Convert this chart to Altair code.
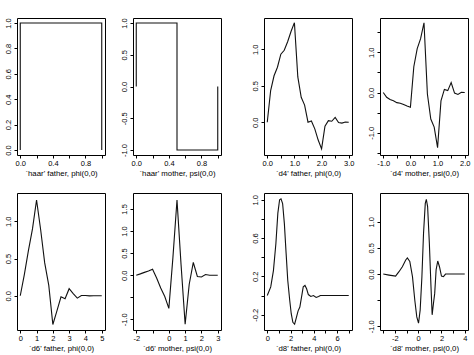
import altair as alt
import pandas as pd

# ---------------- data ----------------
HAAR_PHI_X = [0, 0, 1, 1]
HAAR_PHI_Y = [0, 1, 1, 0]

HAAR_PSI_X = [0, 0, 0.5, 0.5, 1, 1]
HAAR_PSI_Y = [0, 1, 1, -1, -1, 0]

D4_PHI_X = [0, 0.125, 0.25, 0.375, 0.5, 0.625, 0.75, 0.875, 1.0, 1.125, 1.25, 1.375, 1.5,
            1.625, 1.75, 1.875, 2.0, 2.125, 2.25, 2.375, 2.5, 2.625, 2.75, 2.875, 3.0]
D4_PHI_Y = [0, 0.435, 0.637, 0.754, 0.933, 0.987, 1.104, 1.244, 1.366, 0.621, 0.342, 0.234, 0.0,
            0.017, -0.091, -0.245, -0.366, -0.056, 0.021, 0.013, 0.067, -0.004, -0.012, 0.002, 0]

D4_PSI_X = [-1.0, -0.875, -0.75, -0.625, -0.5, -0.375, -0.25, -0.125, 0.0, 0.125, 0.25, 0.375, 0.5,
            0.625, 0.75, 0.875, 1.0, 1.125, 1.25, 1.375, 1.5, 1.625, 1.75, 1.875, 2.0]
D4_PSI_Y = [0, -0.117, -0.171, -0.202, -0.25, -0.264, -0.296, -0.333, -0.366, 0.641, 1.092, 1.337, 1.732,
            -0.037, -0.658, -0.858, -1.366, -0.209, 0.079, 0.048, 0.25, -0.014, -0.046, 0.008, 0]

D6_PHI_X = [0, 0.25, 0.5, 0.75, 1.0, 1.25, 1.5, 1.75, 2.0, 2.25, 2.5, 2.75, 3.0,
            3.25, 3.5, 3.75, 4.0, 4.25, 4.5, 4.75, 5.0]
D6_PHI_Y = [0, 0.285, 0.605, 0.898, 1.286, 0.890, 0.441, 0.139, -0.386, -0.203, -0.015, -0.041, 0.095,
            0.030, -0.032, 0.003, 0.004, -0.002, 0.0, 0.0, 0]

D6_PSI_X = [-2.0, -1.75, -1.5, -1.25, -1.0, -0.75, -0.5, -0.25, 0.0, 0.25, 0.5, 0.75, 1.0,
            1.25, 1.5, 1.75, 2.0, 2.25, 2.5, 2.75, 3.0]
D6_PSI_Y = [0, 0.030, 0.064, 0.095, 0.136, -0.063, -0.288, -0.481, -0.751, 0.403, 1.701, 0.234, -1.108,
            -0.204, 0.288, -0.029, -0.040, 0.015, -0.002, 0.0, 0]

D8_PHI_X = [0, 0.3, 0.53, 0.74, 0.91, 1.06, 1.18, 1.32, 1.47, 1.62, 1.76, 1.93, 2.06, 2.2, 2.35,
            2.5, 2.65, 2.8, 2.94, 3.09, 3.24, 3.38, 3.53, 3.74, 3.97, 4.2, 4.41, 4.56, 5.0, 6.0, 7.0]
D8_PHI_Y = [0, 0.09, 0.26, 0.54, 0.86, 1.0, 1.01, 0.96, 0.75, 0.44, 0.16, -0.05, -0.19, -0.28, -0.30,
            -0.23, -0.16, -0.12, -0.02, 0.09, 0.105, 0.07, 0.01, -0.01, 0.0, -0.02, -0.01, 0.0, 0.0, 0.0, 0]

D8_PSI_X = [-3.0, -2.5, -1.94, -1.65, -1.36, -1.07, -0.93, -0.72, -0.49, -0.29, -0.12, 0.03, 0.17,
            0.32, 0.46, 0.61, 0.70, 0.81, 0.96, 1.10, 1.20, 1.32, 1.42, 1.54, 1.68, 1.83, 2.0, 2.17,
            2.35, 3.0, 4.0]
D8_PSI_Y = [0, -0.02, -0.04, 0.045, 0.14, 0.27, 0.31, 0.24, -0.05, -0.5, -0.82, -0.94, -0.69,
            -0.05, 0.78, 1.35, 1.43, 1.29, 0.59, -0.24, -0.78, -0.55, -0.37, 0.08, 0.25, 0.14, -0.04, -0.05,
            0.0, 0.0, 0]

TITLES = ["`haar' father, phi(0,0)", "`haar' mother, psi(0,0)",
          "`d4' father, phi(0,0)", "`d4' mother, psi(0,0)",
          "`d6' father, phi(0,0)", "`d6' mother, psi(0,0)",
          "`d8' father, phi(0,0)", "`d8' mother, psi(0,0)"]

FONT = "Liberation Sans"
W, H = 88, 137


def show_expr(show):
    cond = " || ".join("abs(datum.value - (%r)) < 1e-6" % v for v in show)
    return "(%s) ? replace(datum.label, '\u2212', '-') : ''" % cond


def panel(xs, ys, title, xdom, ydom, xt, xshow, xfmt, yt, yshow, yfmt):
    df = pd.DataFrame({"x": xs, "y": ys, "i": list(range(len(xs)))})
    return alt.Chart(df).mark_line(color="#111111", strokeWidth=1.1).encode(
        x=alt.X("x:Q", scale=alt.Scale(domain=xdom, nice=False, zero=False),
                axis=alt.Axis(values=xt, format=xfmt, labelExpr=show_expr(xshow), title=title)),
        y=alt.Y("y:Q", scale=alt.Scale(domain=ydom, nice=False, zero=False),
                axis=alt.Axis(values=yt, format=yfmt, labelExpr=show_expr(yshow),
                              labelAngle=270, title="")),
        order="i:Q",
    ).properties(width=W, height=H)


def spacer(w):
    return alt.Chart(pd.DataFrame({"v": [0]})).mark_point(opacity=0).encode(
        x=alt.value(0), y=alt.value(0)
    ).properties(width=w, height=H, view=alt.ViewBackground(strokeOpacity=0))


p1 = panel(HAAR_PHI_X, HAAR_PHI_Y, TITLES[0], [-0.04, 1.04], [-0.04, 1.04],
           [0, 0.2, 0.4, 0.6, 0.8, 1.0], [0, 0.4, 0.8], ".1f",
           [0, 0.2, 0.4, 0.6, 0.8, 1.0], [0, 0.2, 0.4, 0.6, 0.8, 1.0], ".1f")
p2 = panel(HAAR_PSI_X, HAAR_PSI_Y, TITLES[1], [-0.04, 1.04], [-1.08, 1.08],
           [0, 0.2, 0.4, 0.6, 0.8, 1.0], [0, 0.4, 0.8], ".1f",
           [-1, -0.5, 0, 0.5, 1], [-1, -0.5, 0, 0.5, 1], ".1f")
p3 = panel(D4_PHI_X, D4_PHI_Y, TITLES[2], [-0.12, 3.12], [-0.45, 1.43],
           [0, 0.5, 1, 1.5, 2, 2.5, 3], [0, 1, 2, 3], ".1f",
           [0, 0.5, 1.0], [0, 0.5, 1.0], ".1f")
p4 = panel(D4_PSI_X, D4_PSI_Y, TITLES[3], [-1.12, 2.12], [-1.55, 1.85],
           [-1, -0.5, 0, 0.5, 1, 1.5, 2], [-1, 0, 1, 2], ".1f",
           [-1.5, -1, -0.5, 0, 0.5, 1, 1.5], [-1, 0, 1], ".1f")
p5 = panel(D6_PHI_X, D6_PHI_Y, TITLES[4], [-0.2, 5.2], [-0.46, 1.38],
           [0, 1, 2, 3, 4, 5], [0, 1, 2, 3, 4, 5], "d",
           [0, 0.5, 1.0], [0, 0.5, 1.0], ".1f")
p6 = panel(D6_PSI_X, D6_PSI_Y, TITLES[5], [-2.2, 3.2], [-1.24, 1.86],
           [-2, -1, 0, 1, 2, 3], [-2, 0, 1, 2, 3], "d",
           [-1, -0.5, 0, 0.5, 1, 1.5], [-1, 0, 0.5, 1, 1.5], ".1f")
p7 = panel(D8_PHI_X, D8_PHI_Y, TITLES[6], [-0.28, 7.28], [-0.36, 1.07],
           [0, 1, 2, 3, 4, 5, 6, 7], [0, 2, 4, 6], "d",
           [-0.2, 0, 0.2, 0.4, 0.6, 0.8, 1.0], [-0.2, 0.2, 0.6, 1.0], ".1f")
p8 = panel(D8_PSI_X, D8_PSI_Y, TITLES[7], [-3.28, 4.28], [-1.07, 1.55],
           [-3, -2, -1, 0, 1, 2, 3, 4], [-2, 0, 2, 4], "d",
           [-1, -0.5, 0, 0.5, 1], [-1, 0, 0.5, 1], ".1f")

chart = alt.concat(
    p1, spacer(2), p2, spacer(17), p3, spacer(2), p4,
    p5, spacer(2), p6, spacer(17), p7, spacer(2), p8,
    columns=7, spacing={"row": 38, "column": 13}, bounds="flush",
).properties(
    padding={"left": 3, "top": 15, "right": 0, "bottom": 0},
    background="white",
).configure_view(
    stroke="black", strokeWidth=1
).configure_axis(
    domain=False, grid=False, tickColor="black", tickSize=3, tickWidth=1,
    labelFont=FONT, labelFontSize=7.5, labelColor="black", labelPadding=1.5,
    labelFlush=False, labelOverlap=False,
    titleFont=FONT, titleFontSize=7.8, titleFontWeight="normal", titleColor="black",
    titlePadding=2,
)

chart.save("out.html", embed_options={"renderer": "svg", "actions": False})
